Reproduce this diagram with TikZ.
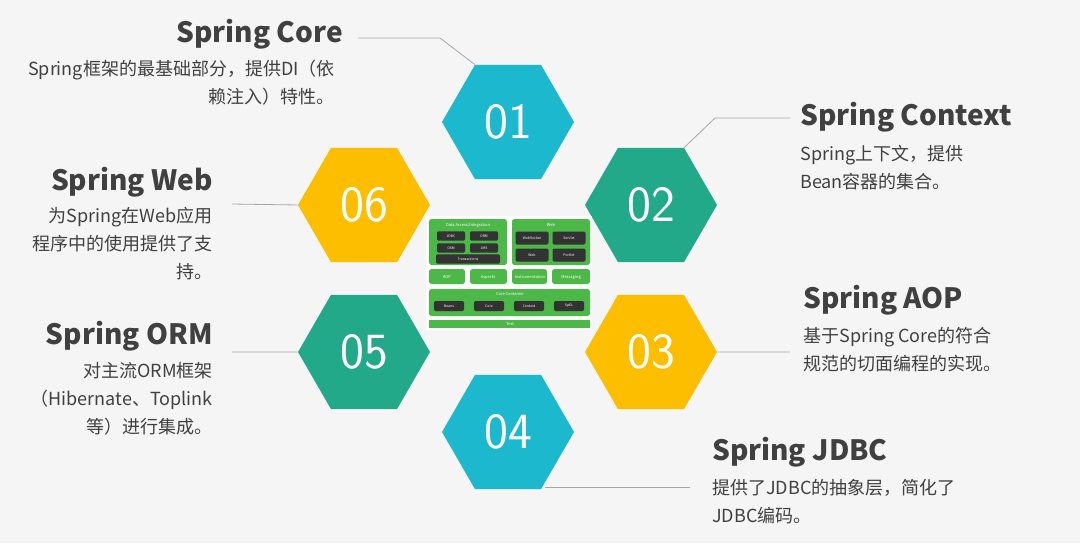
\documentclass[tikz,border=0pt]{standalone}
\usepackage{fontspec}
\setmainfont{Noto Sans CJK SC}
\usetikzlibrary{shapes.geometric}
\definecolor{cy}{HTML}{1BB8CE}\definecolor{gr}{HTML}{22A98A}\definecolor{ye}{HTML}{FDBE00}
\definecolor{tx}{HTML}{404040}\definecolor{sg}{HTML}{4CB848}\definecolor{db}{HTML}{333333}
\begin{document}
\begin{tikzpicture}[x=0.75pt,y=-0.75pt,
 hex/.style={regular polygon,regular polygon sides=6,shape border rotate=0,minimum size=132*0.75pt,inner sep=0pt,text=white,font=\fontsize{38}{38}\selectfont\sffamily},
 ttl/.style={font=\fontsize{21}{24}\selectfont\bfseries,text=tx,inner sep=0pt},
 bd/.style={font=\fontsize{13.5}{21}\selectfont,text=tx,inner sep=0pt},
 ld/.style={draw=gray!70,line width=0.6pt},
 gb/.style={fill=sg,rounded corners=2pt,draw=none},
 dk/.style={fill=db,rounded corners=1pt,text=white,font=\fontsize{2.6}{3}\selectfont,inner sep=0pt,minimum height=7pt},
 gl/.style={text=white,font=\fontsize{3}{3}\selectfont,inner sep=0pt}]
\fill[black!4] (0,0) rectangle (1080,543);
\useasboundingbox (0,0) rectangle (1080,543);
\node[hex,fill=cy] (h1) at (508,122) {01};
\node[hex,fill=gr] (h2) at (651,205) {02};
\node[hex,fill=ye] (h3) at (651,352) {03};
\node[hex,fill=cy] (h4) at (508,432) {04};
\node[hex,fill=gr] (h5) at (364,352) {05};
\node[hex,fill=ye] (h6) at (364,205) {06};
% leaders
\coordinate (c1a) at (358,38);\coordinate (c1b) at (440,38);
\draw[ld] (c1a)--(c1b)--(h1.120);
\coordinate (c2a) at (790,118);\coordinate (c2b) at (715,118);
\draw[ld] (c2a)--(c2b)--(h2.60);
\coordinate (c6) at (232,204);\draw[ld] (c6)--(h6.west);
\coordinate (c5) at (232,352);\draw[ld] (c5)--(h5.west);
\coordinate (c3) at (790,352);\draw[ld] (h3.east)--(c3);
\coordinate (c4a) at (545,487);\coordinate (c4b) at (690,487);\draw[ld] (c4a)--(c4b);
% texts
\node[ttl,anchor=east] (t1) at (343,34) {Spring Core};
\node[bd,anchor=north east,align=right,text width=330pt*0.75] (b1) at (335,60) {Spring框架的最基础部分，提供DI（依\\赖注入）特性。};
\node[ttl,anchor=west] (t2) at (800,117) {Spring Context};
\node[bd,anchor=north west,align=left] (b2) at (800,145) {Spring上下文，提供\\Bean容器的集合。};
\node[ttl,anchor=east] (t6) at (213,182) {Spring Web};
\node[bd,anchor=north east,align=right] (b6) at (213,207) {为Spring在Web应用\\程序中的使用提供了支\\持。};
\node[ttl,anchor=east] (t5) at (213,336) {Spring ORM};
\node[bd,anchor=north east,align=right] (b5) at (213,362) {对主流ORM框架\\（Hibernate、Toplink\\等）进行集成。};
\node[ttl,anchor=west] (t3) at (803,300) {Spring AOP};
\node[bd,anchor=north west,align=left] (b3) at (803,327) {基于Spring Core的符合\\规范的切面编程的实现。};
\node[ttl,anchor=west] (t4) at (712,452) {Spring JDBC};
\node[bd,anchor=north west,align=left] (b4) at (712,479) {提供了JDBC的抽象层，简化了\\JDBC编码。};
% center diagram
\fill[white] (426,216) rectangle (592,330);
\fill[gb] (429,219) rectangle (507,265);
\node[gl] (da) at (468,225) {Data Access/Integration};
\node[dk,minimum width=28pt*0.75] (jd) at (451,236) {JDBC};
\node[dk,minimum width=28pt*0.75] (or) at (484,236) {ORM};
\node[dk,minimum width=28pt*0.75] (ox) at (451,248) {OXM};
\node[dk,minimum width=28pt*0.75] (jm) at (484,248) {JMS};
\node[dk,minimum width=64pt*0.75] (tr) at (468,259) {Transactions};
\fill[gb] (512,219) rectangle (590,265);
\node[gl] (we) at (551,225) {Web};
\node[dk,minimum width=33pt*0.75,minimum height=13pt*0.75] (ws) at (532,238) {WebSocket};
\node[dk,minimum width=33pt*0.75,minimum height=13pt*0.75] (sv) at (569,238) {Servlet};
\node[dk,minimum width=33pt*0.75,minimum height=13pt*0.75] (wb) at (532,255) {Web};
\node[dk,minimum width=33pt*0.75,minimum height=13pt*0.75] (pt) at (569,255) {Portlet};
\fill[gb] (429,269) rectangle (465,284);\node[gl] (ao) at (447,277) {AOP};
\fill[gb] (470,269) rectangle (507,284);\node[gl] (as) at (488,277) {Aspects};
\fill[gb] (512,269) rectangle (547,284);\node[gl] (in) at (530,277) {Instrumentation};
\fill[gb] (552,269) rectangle (590,284);\node[gl] (me) at (571,277) {Messaging};
\fill[gb] (429,289) rectangle (590,316);\node[gl] (cc) at (510,294) {Core Container};
\node[dk,minimum width=30pt*0.75,minimum height=10pt*0.75] (be) at (449,306) {Beans};
\node[dk,minimum width=30pt*0.75,minimum height=10pt*0.75] (co) at (489,306) {Core};
\node[dk,minimum width=30pt*0.75,minimum height=10pt*0.75] (cx) at (529,306) {Context};
\node[dk,minimum width=30pt*0.75,minimum height=10pt*0.75] (sp) at (569,306) {SpEL};
\fill[sg] (429,320) rectangle (590,328);\node[gl] (te) at (510,324) {Test};
\end{tikzpicture}
\end{document}
